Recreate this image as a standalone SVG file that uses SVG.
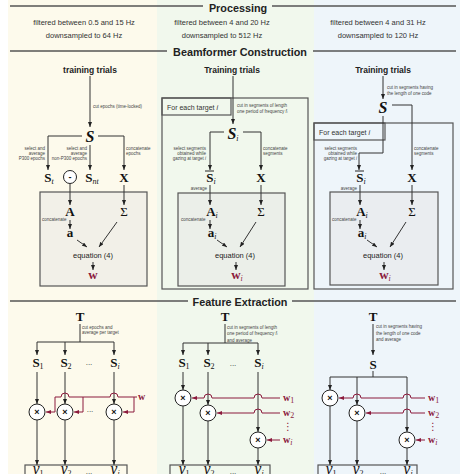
<svg xmlns="http://www.w3.org/2000/svg" width="474" height="474" viewBox="0 0 474 474">
<defs>
<marker id="ah" viewBox="0 0 10 8" refX="10" refY="4" markerWidth="5" markerHeight="4" orient="auto" markerUnits="userSpaceOnUse"><path d="M0,0 L10,4 L0,8 z" fill="#222"/></marker>
<marker id="ahr" viewBox="0 0 10 8" refX="10" refY="4" markerWidth="5" markerHeight="4" orient="auto" markerUnits="userSpaceOnUse"><path d="M0,0 L10,4 L0,8 z" fill="#8b1a3c"/></marker>
</defs>
<style>
.hd{font-family:"Liberation Sans",Arial,sans-serif;font-weight:bold;font-size:10.8px;fill:#222;text-anchor:middle}
.pr{font-family:"Liberation Sans",Arial,sans-serif;font-size:7.5px;fill:#333;text-anchor:middle}
.tt{font-family:"Liberation Sans",Arial,sans-serif;font-weight:bold;font-size:8.5px;fill:#222;text-anchor:middle}
.lb{font-family:"Liberation Sans",Arial,sans-serif;font-size:4.5px;fill:#444}
.lr{text-anchor:end}
.fe{font-family:"Liberation Sans",Arial,sans-serif;font-size:7px;fill:#333}
.eq{font-family:"Liberation Sans",Arial,sans-serif;font-size:7.5px;fill:#222;text-anchor:middle}
.m{font-family:"Liberation Serif","DejaVu Serif",serif;font-weight:bold;font-size:13px;fill:#111;text-anchor:middle}
.mi{font-family:"Liberation Serif","DejaVu Serif",serif;font-weight:bold;font-style:italic;font-size:16px;fill:#111;text-anchor:middle}
.sg{font-family:"Liberation Serif","DejaVu Serif",serif;font-size:13px;fill:#111;text-anchor:middle}
.y{font-family:"Liberation Serif","DejaVu Serif",serif;font-style:italic;font-size:16px;fill:#111;text-anchor:middle}
.sb{font-size:8px;font-weight:normal;font-style:italic}
.sn{font-size:8px;font-weight:normal;font-style:normal}
.red{fill:#8b1a3c}
.wl{font-family:"Liberation Serif","DejaVu Serif",serif;font-weight:bold;font-size:10px;fill:#8b1a3c}
.dt{font-family:"Liberation Sans",sans-serif;font-size:8px;fill:#333;text-anchor:middle}
.vd{font-family:"DejaVu Sans",sans-serif;font-size:10px;fill:#8b1a3c;text-anchor:middle}
.ln{stroke:#333;stroke-width:1;fill:none}
.arr{marker-end:url(#ah)}
.rl{stroke:#8b1a3c;stroke-width:1;fill:none}
.rarr{marker-end:url(#ahr)}
.box{fill:#e4e4e4;fill-opacity:0.45;stroke:#555;stroke-width:1.2}
.ob{fill:none;stroke:#555;stroke-width:1.2}
.hl{stroke:#555;stroke-width:1.5}
.c{fill:#fff;stroke:#222;stroke-width:1}
.x{font-family:"Liberation Sans",Arial,sans-serif;font-weight:bold;font-size:9px;fill:#111;text-anchor:middle}
</style>
<rect width="474" height="474" fill="#fff"/>
<g id="backgrounds">
<rect x="8" y="0" width="149" height="474" fill="#fdfaec"/>
<rect x="157" y="0" width="157" height="474" fill="#f1f8ed"/>
<rect x="314" y="0" width="146" height="474" fill="#eef5fa"/>
</g>
<g id="headings">
<line class="hl" x1="10" y1="6" x2="203" y2="6"/><line class="hl" x1="272" y1="6" x2="456" y2="6"/>
<text class="hd" x="238" y="12">Processing</text>
<line class="hl" x1="10" y1="51" x2="167" y2="51"/><line class="hl" x1="313" y1="51" x2="456" y2="51"/>
<text class="hd" x="240" y="56">Beamformer Construction</text>
<line class="hl" x1="10" y1="301" x2="188" y2="301"/><line class="hl" x1="292" y1="301" x2="456" y2="301"/>
<text class="hd" x="240" y="306">Feature Extraction</text>
</g>
<g id="processing">
<text class="pr" x="84" y="25">filtered between 0.5 and 15 Hz</text>
<text class="pr" x="84" y="38">downsampled to 64 Hz</text>
<text class="pr" x="222" y="25">filtered between 4 and 20 Hz</text>
<text class="pr" x="222" y="38">downsampled to 512 Hz</text>
<text class="pr" x="378" y="25">filtered between 4 and 31 Hz</text>
<text class="pr" x="378" y="38">downsampled to 120 Hz</text>
</g>
<!-- Left beamformer -->
<g id="L-train"><text class="tt" x="90" y="73">training trials</text></g>
<g id="L-S"><text class="mi" x="90" y="142">S</text></g>
<g id="L-St"><text class="m" x="49" y="182">S<tspan class="sb" dy="2">t</tspan></text></g>
<g id="L-minus"><circle class="c" cx="70" cy="177" r="6.5"/><text class="x" x="70" y="180">-</text></g>
<g id="L-Snt"><text class="m" x="92" y="182">S<tspan class="sb" dy="2">nt</tspan></text></g>
<g id="L-X"><text class="m" x="124" y="182">X</text></g>
<g id="L-box"><rect class="box" x="40" y="192" width="107" height="94"/></g>
<g id="L-A"><text class="m" x="70" y="216">A</text></g>
<g id="L-Sigma"><text class="sg" x="124" y="216">Σ</text></g>
<g id="L-a"><text class="m" x="70" y="237">a</text></g>
<g id="L-eq"><text class="eq" x="93" y="258">equation (4)</text></g>
<g id="L-w"><text class="m red" x="93" y="279">w</text></g>
<g id="L-labels">
<text class="lb" x="93" y="108">cut epochs (time-locked)</text>
<text class="lb lr" x="45" y="150">select and</text><text class="lb lr" x="45" y="155">average</text><text class="lb lr" x="45" y="160">P300 epochs</text>
<text class="lb lr" x="87" y="150">select and</text><text class="lb lr" x="87" y="155">average</text><text class="lb lr" x="87" y="160">non-P300 epochs</text>
<text class="lb" x="126" y="150">concatenate</text><text class="lb" x="126" y="155">epochs</text>
<text class="lb" x="42" y="221" font-size="4">concatenate</text>
</g>
<!-- Middle beamformer -->
<g id="M-train"><text class="tt" x="232" y="73">Training trials</text></g>
<g id="M-outer"><rect class="ob" x="162" y="98" width="146" height="191"/><rect class="ob" x="162" y="98" width="69" height="17"/><text class="fe" x="167" y="110">For each target <tspan font-style="italic">i</tspan></text></g>
<g id="M-Si"><text class="mi" x="233" y="139">S<tspan class="sb" dy="2">i</tspan></text></g>
<g id="M-Sbar"><text class="m" x="211" y="182">S<tspan class="sb" dy="2">i</tspan></text><line x1="205" y1="171" x2="214" y2="171" stroke="#111" stroke-width="0.9"/></g>
<g id="M-X"><text class="m" x="261" y="182">X</text></g>
<g id="M-box"><rect class="box" x="178" y="193" width="107" height="93"/></g>
<g id="M-A"><text class="m" x="212" y="216">A<tspan class="sb" dy="2">i</tspan></text></g>
<g id="M-Sigma"><text class="sg" x="261" y="216">Σ</text></g>
<g id="M-a"><text class="m" x="212" y="237">a<tspan class="sb" dy="2">i</tspan></text></g>
<g id="M-eq"><text class="eq" x="235" y="258">equation (4)</text></g>
<g id="M-w"><text class="m red" x="237" y="279">w<tspan class="sb" dy="2">i</tspan></text></g>
<g id="M-labels">
<text class="lb" x="237" y="107">cut in segments of length</text><text class="lb" x="237" y="113">one period of frequency <tspan font-style="italic">f</tspan><tspan font-size="3">i</tspan></text>
<text class="lb lr" x="206" y="150">select segments</text><text class="lb lr" x="206" y="155">obtained while</text><text class="lb lr" x="206" y="160">gazing at target <tspan font-style="italic">i</tspan></text>
<text class="lb" x="263" y="150">concatenate</text><text class="lb" x="263" y="155">segments</text>
<text class="lb lr" x="207" y="190">average</text>
<text class="lb" x="181" y="221" font-size="4">concatenate</text>
</g>
<!-- Right beamformer -->
<g id="R-train"><text class="tt" x="383" y="73">Training trials</text></g>
<g id="R-S"><text class="mi" x="383" y="113">S</text></g>
<g id="R-outer"><rect class="ob" x="314" y="123" width="139" height="166"/><rect class="ob" x="314" y="123" width="71" height="17"/><text class="fe" x="319" y="135">For each target <tspan font-style="italic">i</tspan></text></g>
<g id="R-Sbar"><text class="m" x="361" y="182">S<tspan class="sb" dy="2">i</tspan></text><line x1="355" y1="171" x2="364" y2="171" stroke="#111" stroke-width="0.9"/></g>
<g id="R-X"><text class="m" x="412" y="182">X</text></g>
<g id="R-box"><rect class="box" x="330" y="192" width="108" height="93"/></g>
<g id="R-A"><text class="m" x="362" y="216">A<tspan class="sb" dy="2">i</tspan></text></g>
<g id="R-Sigma"><text class="sg" x="412" y="216">Σ</text></g>
<g id="R-a"><text class="m" x="362" y="237">a<tspan class="sb" dy="2">i</tspan></text></g>
<g id="R-eq"><text class="eq" x="383" y="258">equation (4)</text></g>
<g id="R-w"><text class="m red" x="385" y="279">w<tspan class="sb" dy="2">i</tspan></text></g>
<g id="R-labels">
<text class="lb" x="387" y="89">cut in segments having</text><text class="lb" x="387" y="95">the length of one code</text>
<text class="lb lr" x="357" y="150">select segments</text><text class="lb lr" x="357" y="155">obtained while</text><text class="lb lr" x="357" y="160">gazing at target <tspan font-style="italic">i</tspan></text>
<text class="lb" x="414" y="150">concatenate</text><text class="lb" x="414" y="155">segments</text>
<text class="lb lr" x="357" y="190">average</text>
<text class="lb" x="332" y="221" font-size="4">concatenate</text>
</g>
<!-- Feature extraction left -->
<g id="FL-T"><text class="m" x="80" y="321">T</text></g>
<g id="FL-S1"><text class="m" x="38" y="367">S<tspan class="sn" dy="2">1</tspan></text></g>
<g id="FL-S2"><text class="m" x="66" y="367">S<tspan class="sn" dy="2">2</tspan></text></g>
<g id="FL-dots"><text class="dt" x="89" y="365">...</text><text class="dt" x="90" y="412">...</text></g>
<g id="FL-Si"><text class="m" x="115" y="367">S<tspan class="sb" dy="2">i</tspan></text></g>
<g id="FL-c1"><circle class="c" cx="37" cy="412" r="8"/><text class="x" x="37" y="415">×</text></g>
<g id="FL-c2"><circle class="c" cx="65" cy="412" r="8"/><text class="x" x="65" y="415">×</text></g>
<g id="FL-ci"><circle class="c" cx="114" cy="412" r="8"/><text class="x" x="114" y="415">×</text></g>
<g id="FL-w"><text class="wl" x="138" y="400">w</text></g>
<g id="FL-out"><rect class="ob" x="25" y="465" width="102" height="20"/><text class="y" x="38" y="474">y<tspan class="sn" dy="2">1</tspan></text><text class="y" x="66" y="474">y<tspan class="sn" dy="2">2</tspan></text><text class="dt" x="89" y="474">...</text><text class="y" x="115" y="474">y<tspan class="sb" dy="2">i</tspan></text></g>
<g id="FL-labels"><text class="lb" x="82" y="328.5">cut epochs and</text><text class="lb" x="82" y="334">average per target</text></g>
<!-- Feature extraction middle -->
<g id="FM-T"><text class="m" x="225" y="321">T</text></g>
<g id="FM-S1"><text class="m" x="184" y="367">S<tspan class="sn" dy="2">1</tspan></text></g>
<g id="FM-S2"><text class="m" x="209" y="367">S<tspan class="sn" dy="2">2</tspan></text></g>
<g id="FM-dots"><text class="dt" x="233" y="366">...</text></g>
<g id="FM-Si"><text class="m" x="259" y="367">S<tspan class="sb" dy="2">i</tspan></text></g>
<g id="FM-c1"><circle class="c" cx="183" cy="398" r="8"/><text class="x" x="183" y="401">×</text></g>
<g id="FM-c2"><circle class="c" cx="208" cy="413" r="8"/><text class="x" x="208" y="416">×</text></g>
<g id="FM-ci"><circle class="c" cx="258" cy="440" r="8"/><text class="x" x="258" y="443">×</text></g>
<g id="FM-w"><text class="wl" x="283" y="401">w<tspan class="sn" dy="2">1</tspan></text><text class="wl" x="283" y="416">w<tspan class="sn" dy="2">2</tspan></text><text class="vd" x="288" y="430">⋮</text><text class="wl" x="283" y="443">w<tspan class="sb" dy="2">i</tspan></text></g>
<g id="FM-out"><rect class="ob" x="170" y="465" width="100" height="20"/><text class="y" x="184" y="474">y<tspan class="sn" dy="2">1</tspan></text><text class="y" x="209" y="474">y<tspan class="sn" dy="2">2</tspan></text><text class="dt" x="233" y="474">...</text><text class="y" x="259" y="474">y<tspan class="sb" dy="2">i</tspan></text></g>
<g id="FM-labels"><text class="lb" x="227" y="329">cut in segments of length</text><text class="lb" x="227" y="335">one period of frequency <tspan font-style="italic">f</tspan><tspan font-size="3">i</tspan></text><text class="lb" x="227" y="341.5">and average</text></g>
<!-- Feature extraction right -->
<g id="FR-T"><text class="m" x="373" y="321">T</text></g>
<g id="FR-S"><text class="m" x="373" y="369" font-size="15">S</text></g>
<g id="FR-c1"><circle class="c" cx="330" cy="398" r="8"/><text class="x" x="330" y="401">×</text></g>
<g id="FR-c2"><circle class="c" cx="357" cy="413" r="8"/><text class="x" x="357" y="416">×</text></g>
<g id="FR-ci"><circle class="c" cx="407" cy="440" r="8"/><text class="x" x="407" y="443">×</text></g>
<g id="FR-w"><text class="wl" x="428" y="401">w<tspan class="sn" dy="2">1</tspan></text><text class="wl" x="428" y="416">w<tspan class="sn" dy="2">2</tspan></text><text class="vd" x="433" y="430">⋮</text><text class="wl" x="428" y="443">w<tspan class="sb" dy="2">i</tspan></text></g>
<g id="FR-out"><rect class="ob" x="318" y="465" width="99" height="20"/><text class="y" x="331" y="474">y<tspan class="sn" dy="2">1</tspan></text><text class="y" x="358" y="474">y<tspan class="sn" dy="2">2</tspan></text><text class="dt" x="383" y="474">...</text><text class="y" x="408" y="474">y<tspan class="sb" dy="2">i</tspan></text></g>
<g id="FR-labels"><text class="lb" x="376" y="328">cut in segments having</text><text class="lb" x="376" y="334.5">the length of one code</text><text class="lb" x="376" y="341">and average</text></g>
<g id="connectors">
<path class="ln arr" d="M90,76 V127"/>
<path class="ln arr" d="M82,136 H48 V170"/>
<path class="ln arr" d="M90,145 V170"/>
<path class="ln arr" d="M98,136 H124 V170"/>
<path class="ln arr" d="M70,184 V205"/>
<path class="ln arr" d="M124,185 V205"/>
<path class="ln arr" d="M70,220 V229"/>
<path class="ln arr" d="M77,240 L87,247"/>
<path class="ln arr" d="M117,222 L99,247"/>
<path class="ln arr" d="M93,262 V270"/>
<path class="ln arr" d="M233,76 V124"/>
<path class="ln arr" d="M224,132 H210 V170"/>
<path class="ln arr" d="M243,132 H261 V170"/>
<path class="ln arr" d="M210,185 V205"/>
<path class="ln arr" d="M261,185 V205"/>
<path class="ln arr" d="M210,220 V229"/>
<path class="ln arr" d="M217,240 L227,247"/>
<path class="ln arr" d="M256,222 L240,247"/>
<path class="ln arr" d="M236,262 V270"/>
<path class="ln arr" d="M383,76 V99"/>
<path class="ln arr" d="M392,105 H412 V170"/>
<path class="ln arr" d="M383,116 V153 H359 V170"/>
<path class="ln arr" d="M360,185 V205"/>
<path class="ln arr" d="M412,185 V205"/>
<path class="ln arr" d="M360,220 V229"/>
<path class="ln arr" d="M367,240 L377,247"/>
<path class="ln arr" d="M406,222 L390,247"/>
<path class="ln arr" d="M384,262 V270"/>
<path class="ln" d="M80,324 V342 M37,342 H114"/>
<path class="ln arr" d="M37,342 V355"/>
<path class="ln arr" d="M65,342 V355"/>
<path class="ln arr" d="M114,342 V355"/>
<path class="ln arr" d="M37,372 V404"/>
<path class="ln arr" d="M65,372 V404"/>
<path class="ln arr" d="M114,372 V404"/>
<path class="ln arr" d="M37,420 V465"/>
<path class="ln arr" d="M65,420 V465"/>
<path class="ln arr" d="M114,420 V465"/>
<path class="rl" d="M55,397 H61 A4,4 0 0 1 69,397 H110 A4,4 0 0 1 118,397 H137"/>
<path class="rl rarr" d="M55,397 V412 H46"/>
<path class="rl rarr" d="M83,397 V412 H74"/>
<path class="rl rarr" d="M134,397 V412 H123"/>
<path class="ln" d="M225,324 V343 M183,343 H258"/>
<path class="ln arr" d="M183,343 V355"/>
<path class="ln arr" d="M208,343 V355"/>
<path class="ln arr" d="M258,343 V355"/>
<path class="ln arr" d="M183,372 V390"/>
<path class="ln arr" d="M208,372 V405"/>
<path class="ln arr" d="M258,372 V432"/>
<path class="ln arr" d="M183,406 V465"/>
<path class="ln arr" d="M208,421 V465"/>
<path class="ln arr" d="M258,448 V465"/>
<path class="rl rarr" d="M280,398 H262 A4,4 0 0 0 254,398 H212 A4,4 0 0 0 204,398 H192"/>
<path class="rl rarr" d="M280,413 H262 A4,4 0 0 0 254,413 H217"/>
<path class="rl rarr" d="M280,440 H267"/>
<path class="ln arr" d="M373,324 V355"/>
<path class="ln" d="M373,371 V377 M330,377 H407"/>
<path class="ln arr" d="M330,377 V390"/>
<path class="ln arr" d="M357,377 V405"/>
<path class="ln arr" d="M407,377 V432"/>
<path class="ln arr" d="M330,406 V465"/>
<path class="ln arr" d="M357,421 V465"/>
<path class="ln arr" d="M407,448 V465"/>
<path class="rl rarr" d="M425,398 H411 A4,4 0 0 0 403,398 H361 A4,4 0 0 0 353,398 H339"/>
<path class="rl rarr" d="M425,413 H411 A4,4 0 0 0 403,413 H366"/>
<path class="rl rarr" d="M425,440 H416"/>
</g>
</svg>
